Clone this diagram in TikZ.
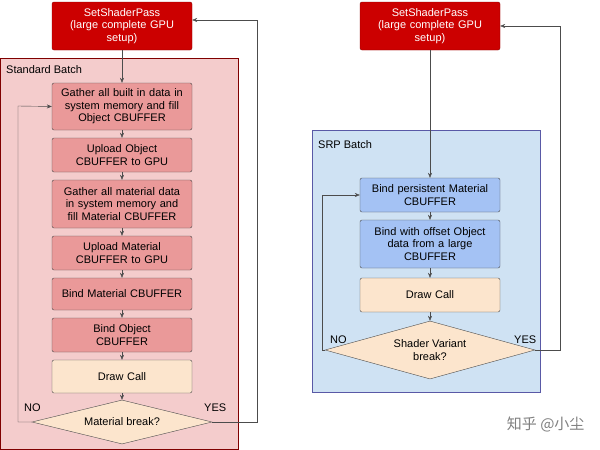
\documentclass[tikz,border=0pt]{standalone}
\usepackage{fontspec}
\setmainfont{Liberation Sans}
\newfontfamily\cjk{Noto Sans CJK SC}
\usetikzlibrary{shapes.geometric,arrows.meta}
\definecolor{redbox}{HTML}{CC0000}
\definecolor{pinkpanel}{HTML}{F4CCCC}
\definecolor{pinkbox}{HTML}{EA9999}
\definecolor{bluepanel}{HTML}{CFE2F3}
\definecolor{bluebox}{HTML}{A4C2F4}
\definecolor{draw}{HTML}{FCE5CD}
\tikzset{
 box/.style={draw=black!70, rounded corners=2pt, minimum width=140pt, text width=130pt, align=center, font=\fontsize{11pt}{12.5pt}\selectfont, inner sep=1pt},
 redb/.style={box, fill=redbox, text=white, draw=redbox!70!black},
 pinkb/.style={box, fill=pinkbox},
 blueb/.style={box, fill=bluebox},
 drawb/.style={box, fill=draw},
 dia/.style={diamond, draw=black!70, fill=draw, aspect=4, inner sep=0pt, align=center, font=\fontsize{11pt}{12.5pt}\selectfont},
 arr/.style={draw=black!70, -{Stealth[length=5pt,width=4pt]}},
 lab/.style={font=\fontsize{11pt}{12pt}\selectfont, anchor=west, inner sep=0pt}
}
\begin{document}
\begin{tikzpicture}[x=1pt,y=-1pt]
\useasboundingbox (0,0) rectangle (600,450);
\fill[white] (0,0) rectangle (600,450);
% panels
\draw[fill=pinkpanel, draw=red!50!black] (0,58) rectangle (238,449);
\node[lab] (sb) at (6,70) {Standard Batch};
\draw[fill=bluepanel, draw=blue!30!gray] (312,130) rectangle (540,392);
\node[lab] (srp) at (318,145) {SRP Batch};
% left
\node[redb, minimum height=48pt] (r1) at (122,26) {SetShaderPass\\(large complete GPU\\setup)};
\node[pinkb, minimum height=47pt] (a1) at (122,106.5) {Gather all built in data in\\system memory and fill\\Object CBUFFER};
\node[pinkb, minimum height=34pt] (a2) at (122,155) {Upload Object\\CBUFFER to GPU};
\node[pinkb, minimum height=48pt] (a3) at (122,204) {Gather all material data\\in system memory and\\fill Material CBUFFER};
\node[pinkb, minimum height=34pt] (a4) at (122,253) {Upload Material\\CBUFFER to GPU};
\node[pinkb, minimum height=32pt] (a5) at (122,294) {Bind Material CBUFFER};
\node[pinkb, minimum height=34pt] (a6) at (122,335) {Bind Object\\CBUFFER};
\node[drawb, minimum height=33pt] (a7) at (122,376.5) {Draw Call};
\node[dia, minimum width=180pt, minimum height=44pt] (d1) at (122,422) {Material break?};
\node[lab] (no1) at (24,408) {NO};
\node[lab] (yes1) at (204,408) {YES};
\draw[arr] (r1) -- (a1);
\draw[arr] (a1) -- (a2);
\draw[arr] (a2) -- (a3);
\draw[arr] (a3) -- (a4);
\draw[arr] (a4) -- (a5);
\draw[arr] (a5) -- (a6);
\draw[arr] (a6) -- (a7);
\draw[arr] (a7) -- (d1);
\draw[arr] (d1.west) -| (18,106) -- (a1.west);
\draw[arr] (d1.east) -| (257,20) -- (r1.east |- 0,20);
% right
\node[redb, minimum height=48pt] (r2) at (430,26) {SetShaderPass\\(large complete GPU\\setup)};
\node[blueb, minimum height=34pt] (b1) at (430,195) {Bind persistent Material\\CBUFFER};
\node[blueb, minimum height=48pt] (b2) at (430,244) {Bind with offset Object\\data from a large\\CBUFFER};
\node[drawb, minimum height=34pt] (b3) at (430,295) {Draw Call};
\node[dia, minimum width=210pt, minimum height=58pt, aspect=3.6] (d2) at (430,350) {Shader Variant\\break?};
\node[lab] (no2) at (330,340) {NO};
\node[lab] (yes2) at (514,340) {YES};
\draw[arr] (r2) -- (b1);
\draw[arr] (b1) -- (b2);
\draw[arr] (b2) -- (b3);
\draw[arr] (b3) -- (d2);
\draw[arr] (d2.west) -| (322,195) -- (b1.west);
\draw[arr] (d2.east) -| (560,26) -- (r2.east);
\node[anchor=east, text=gray, font=\cjk\fontsize{15pt}{16pt}\selectfont] (wm) at (588,424) {知乎 @小尘};
\end{tikzpicture}
\end{document}
